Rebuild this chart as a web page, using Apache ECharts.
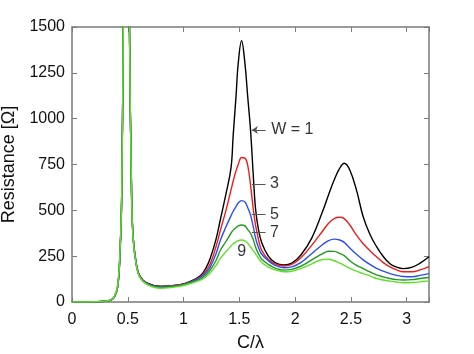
<!DOCTYPE html>
<html>
<head>
<meta charset="utf-8">
<script src="https://cdn.jsdelivr.net/npm/echarts@6/dist/echarts.min.js"></script>
<style>
  html, body { margin: 0; padding: 0; background: #fff; }
  #main { width: 474px; height: 354px; }
</style>
</head>
<body>
<div id="main"></div>
<script>
var xs = [0, 0.1, 0.2, 0.3, 0.35, 0.38, 0.41, 0.43, 0.445, 0.46, 0.49, 0.515, 0.535, 0.55, 0.58, 0.61, 0.67,
    0.79, 0.97, 1.06, 1.15, 1.2, 1.24, 1.29, 1.33, 1.38, 1.425, 1.445, 1.47, 1.49, 1.52, 1.55, 1.575, 1.6,
    1.625, 1.645, 1.67, 1.7, 1.76, 1.82, 1.9, 1.97, 2.05, 2.15, 2.25, 2.3, 2.35, 2.4, 2.44, 2.49, 2.55,
    2.61, 2.67, 2.73, 2.79, 2.85, 2.91, 2.97, 3.05, 3.12, 3.2];

var w1 = [0, 0, 1, 4, 11, 28, 85, 265, 560, 1500, 3200, 1500, 560, 340, 195, 140, 104,
    86, 95, 112, 143, 185, 240, 340, 450, 590, 730, 910, 1120, 1302, 1425, 1302, 1120, 940,
    690, 510, 400, 325, 250, 215, 202, 212, 255, 350, 500, 585, 665, 730, 757, 720, 610,
    465, 370, 302, 248, 209, 190, 182, 190, 212, 247];
var w3 = [0, 0, 1, 4, 11, 27, 83, 260, 555, 1500, 3200, 1500, 555, 338, 193, 138, 102,
    84, 94, 110, 138, 170, 210, 300, 391, 500, 610, 660, 715, 750, 788, 785, 745, 640,
    505, 420, 345, 282, 232, 208, 196, 205, 240, 310, 390, 430, 455, 462, 455, 420, 365,
    318, 280, 247, 215, 192, 175, 165, 165, 175, 193];
var w5 = [0, 0, 1, 4, 12, 29, 86, 268, 562, 1500, 3200, 1500, 552, 336, 191, 136, 101,
    82, 92, 108, 133, 160, 192, 262, 337, 410, 470, 495, 520, 540, 553, 545, 515, 475,
    410, 350, 300, 262, 225, 200, 187, 192, 215, 265, 315, 335, 343, 338, 325, 295, 260,
    230, 205, 184, 168, 155, 145, 139, 138, 145, 155];
var w7 = [0, 0, 1, 4, 12, 30, 88, 272, 566, 1500, 3200, 1500, 550, 333, 189, 134, 99,
    79, 90, 105, 125, 148, 175, 225, 282, 330, 375, 392, 405, 415, 420, 415, 395, 375,
    340, 300, 265, 235, 205, 185, 174, 178, 195, 230, 265, 277, 276, 265, 253, 225, 200,
    182, 164, 148, 137, 128, 122, 120, 122, 128, 134];
var w9 = [0, 0, 1, 5, 13, 32, 92, 280, 575, 1500, 3200, 1500, 548, 330, 186, 131, 96,
    75, 86, 100, 119, 138, 160, 198, 238, 275, 305, 318, 328, 335, 338, 333, 320, 300,
    280, 262, 240, 215, 190, 175, 165, 168, 182, 208, 232, 233, 225, 212, 200, 184, 168,
    155, 142, 128, 120, 114, 109, 105, 106, 110, 115];

var seriesNames = ['W = 1', 'W = 3', 'W = 5', 'W = 7', 'W = 9'];
var seriesValues = [w1, w3, w5, w7, w9];
var seriesColors = ['#000000', '#ee1c1c', '#2a4ff0', '#1f9a1f', '#5fe02a'];

// annotation text: [x, y, text]
var labelPoints = [
    [1.785, 938, 'W = 1'],
    [1.775, 644, '3'],
    [1.775, 478, '5'],
    [1.775, 378, '7']
];
var centerLabel = [1.52, 274, '9'];
// pointer lines: [xFrom, xTo, y, hasArrow]
var pointers = [
    [1.735, 1.612, 938, true],
    [1.735, 1.612, 644, false],
    [1.735, 1.612, 478, false],
    [1.735, 1.612, 378, false]
];

var font = 'Liberation Sans, Arial, Helvetica, sans-serif';
var frame = '#7a7a7a';

function pairs(vals) {
    return xs.map(function (x, i) { return [x, vals[i]]; });
}

var series = seriesValues.map(function (vals, i) {
    return {
        name: seriesNames[i],
        type: 'line',
        data: pairs(vals),
        showSymbol: false,
        smooth: 0.4,
        clip: true,
        lineStyle: { color: seriesColors[i], width: 1.4 },
        itemStyle: { color: seriesColors[i] },
        z: 2 + i
    };
});

series.push({
    type: 'scatter',
    silent: true,
    symbolSize: 0,
    itemStyle: { color: 'transparent' },
    data: labelPoints.map(function (p) { return [p[0], p[1], p[2]]; })
        .concat([{ value: centerLabel, label: { position: 'inside', align: 'center' } }]),
    label: {
        show: true,
        position: 'right',
        distance: 0,
        color: '#000',
        fontSize: 16,
        fontFamily: font,
        formatter: function (p) { return p.value[2]; }
    },
    markLine: {
        silent: true,
        animation: false,
        symbolSize: 6,
        label: { show: false },
        lineStyle: { color: '#555', width: 1, type: 'solid' },
        data: pointers.map(function (p) {
            return [
                { coord: [p[0], p[2]], symbol: 'none' },
                { coord: [p[1], p[2]], symbol: p[3] ? 'arrow' : 'none' }
            ];
        })
    },
    z: 10
});

var xLabel = function (v) {
    return Math.abs(v * 2 - Math.round(v * 2)) < 1e-6 ? String(v) : '';
};

var option = {
    animation: false,
    grid: { left: 72, right: 45, top: 27, bottom: 52, outerBoundsMode: 'none', containLabel: false },
    xAxis: [{
        type: 'value', min: 0, max: 3.2, interval: 0.5,
        name: 'C/\u03bb', nameLocation: 'middle', nameGap: 32,
        nameTextStyle: { fontSize: 18, fontFamily: font, color: '#111' },
        axisLine: { onZero: false, lineStyle: { color: frame, width: 1.5 } },
        axisTick: { inside: true, length: 5, lineStyle: { color: frame } },
        axisLabel: { formatter: xLabel, fontSize: 16, fontFamily: font, color: '#111', margin: 10 },
        splitLine: { show: false }
    }, {
        type: 'value', min: 0, max: 3.2, interval: 0.5, position: 'top',
        axisLine: { onZero: false, lineStyle: { color: frame, width: 1.5 } },
        axisTick: { inside: true, length: 5, lineStyle: { color: frame } },
        axisLabel: { show: false },
        splitLine: { show: false }
    }],
    yAxis: [{
        type: 'value', min: 0, max: 1500, interval: 250,
        name: 'Resistance [\u03a9]', nameLocation: 'middle', nameGap: 50,
        nameTextStyle: { fontSize: 18, fontFamily: font, color: '#111' },
        axisLine: { show: true, onZero: false, lineStyle: { color: frame, width: 1.5 } },
        axisTick: { show: true, inside: true, length: 5, lineStyle: { color: frame } },
        axisLabel: { formatter: function (v) { return String(v); }, fontSize: 16, fontFamily: font, color: '#111', margin: 7 },
        splitLine: { show: false }
    }, {
        type: 'value', min: 0, max: 1500, interval: 250, position: 'right',
        axisLine: { show: true, onZero: false, lineStyle: { color: frame, width: 1.5 } },
        axisTick: { show: true, inside: true, length: 5, lineStyle: { color: frame } },
        axisLabel: { show: false },
        splitLine: { show: false }
    }],
    series: series
};

var myChart = echarts.init(document.getElementById('main'));
myChart.setOption(option);
</script>
</body>
</html>
